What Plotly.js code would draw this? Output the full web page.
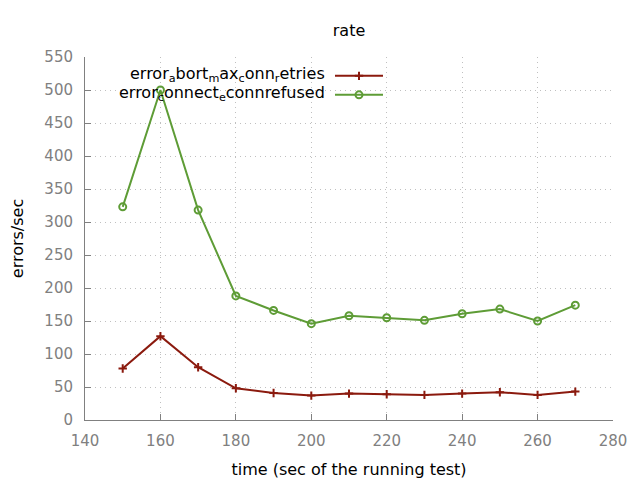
<!DOCTYPE html>
<html>
<head>
<meta charset="utf-8">
<script src="https://cdn.plot.ly/plotly-3.0.1.min.js"></script>
<style>html,body{margin:0;padding:0;background:#fff;}#chart{width:640px;height:480px;}</style>
</head>
<body>
<div id="chart"></div>
<script>
var timeSec = [150, 160, 170, 180, 190, 200, 210, 220, 230, 240, 250, 260, 270];
var abortMaxConnRetries = [78, 127, 80, 48, 41, 37, 40, 39, 38, 40, 42, 38, 43];
var connectEconnrefused = [323, 500, 318, 188, 166, 146, 158, 155, 151, 161, 168, 150, 174];
var seriesNames = ['error<sub>a</sub>bort<sub>m</sub>ax<sub>c</sub>onn<sub>r</sub>etries',
                   'error<sub>c</sub>onnect<sub>e</sub>connrefused'];
var xTicks = [140, 160, 180, 200, 220, 240, 260, 280];
var yTicks = [0, 50, 100, 150, 200, 250, 300, 350, 400, 450, 500, 550];

var font = 'DejaVu Sans, sans-serif';
var traces = [
  {x: timeSec, y: abortMaxConnRetries, type: 'scatter', mode: 'lines+markers', name: ' ',
   line: {color: '#8b1a0e', width: 2},
   marker: {symbol: 'cross-thin', size: 6, line: {color: '#8b1a0e', width: 2}}},
  {x: timeSec, y: connectEconnrefused, type: 'scatter', mode: 'lines+markers', name: ' ',
   line: {color: '#5e9c36', width: 2},
   marker: {symbol: 'circle-open', size: 7, color: '#5e9c36', line: {color: '#5e9c36', width: 2}}}
];

var layout = {
  width: 640, height: 480,
  margin: {l: 85, r: 27, t: 57, b: 60},
  paper_bgcolor: '#fff', plot_bgcolor: '#fff',
  font: {family: font, size: 16, color: '#000'},
  title: {text: 'rate', font: {family: font, size: 16, color: '#000'}, x: 0.5, xref: 'paper', y: 1 - 30/480, yanchor: 'middle'},
  showlegend: true,
  legend: {x: 0.464, y: 0.988, xanchor: 'left', yanchor: 'top', bgcolor: 'rgba(0,0,0,0)', font: {size: 8}, tracegroupgap: 0, itemwidth: 48},
  xaxis: {
    range: [140, 280], tickvals: xTicks, ticktext: xTicks.map(String),
    showgrid: true, gridcolor: '#c0c0c0', griddash: '1px,4px', gridwidth: 1,
    showline: true, linecolor: '#808080', linewidth: 1, zeroline: false,
    ticks: 'inside', ticklen: 6, tickcolor: '#808080',
    tickfont: {family: font, size: 15, color: '#808080'}, ticklabelstandoff: 7,
    title: {text: 'time (sec of the running test)', font: {family: font, size: 16, color: '#000'}, standoff: 14},
    automargin: false
  },
  yaxis: {
    range: [0, 550], tickvals: yTicks, ticktext: yTicks.map(String),
    showgrid: true, gridcolor: '#c0c0c0', griddash: '1px,4px', gridwidth: 1,
    showline: true, linecolor: '#808080', linewidth: 1, zeroline: false,
    ticks: 'inside', ticklen: 6, tickcolor: '#808080',
    tickfont: {family: font, size: 15, color: '#808080'}, ticklabelstandoff: 8,
    title: {text: 'errors/sec', font: {family: font, size: 16, color: '#000'}, standoff: 16},
    automargin: false
  },
  annotations: [
    {text: seriesNames[0], xref: 'paper', yref: 'paper', x: (327-85)/528, y: (420-74)/363,
     xanchor: 'right', yanchor: 'middle', showarrow: false, font: {family: font, size: 16, color: '#000'}},
    {text: seriesNames[1], xref: 'paper', yref: 'paper', x: (327-85)/528, y: (420-93)/363,
     xanchor: 'right', yanchor: 'middle', showarrow: false, font: {family: font, size: 16, color: '#000'}}
  ]
};

Plotly.newPlot('chart', traces, layout, {displayModeBar: false, staticPlot: true});
</script>
</body>
</html>
